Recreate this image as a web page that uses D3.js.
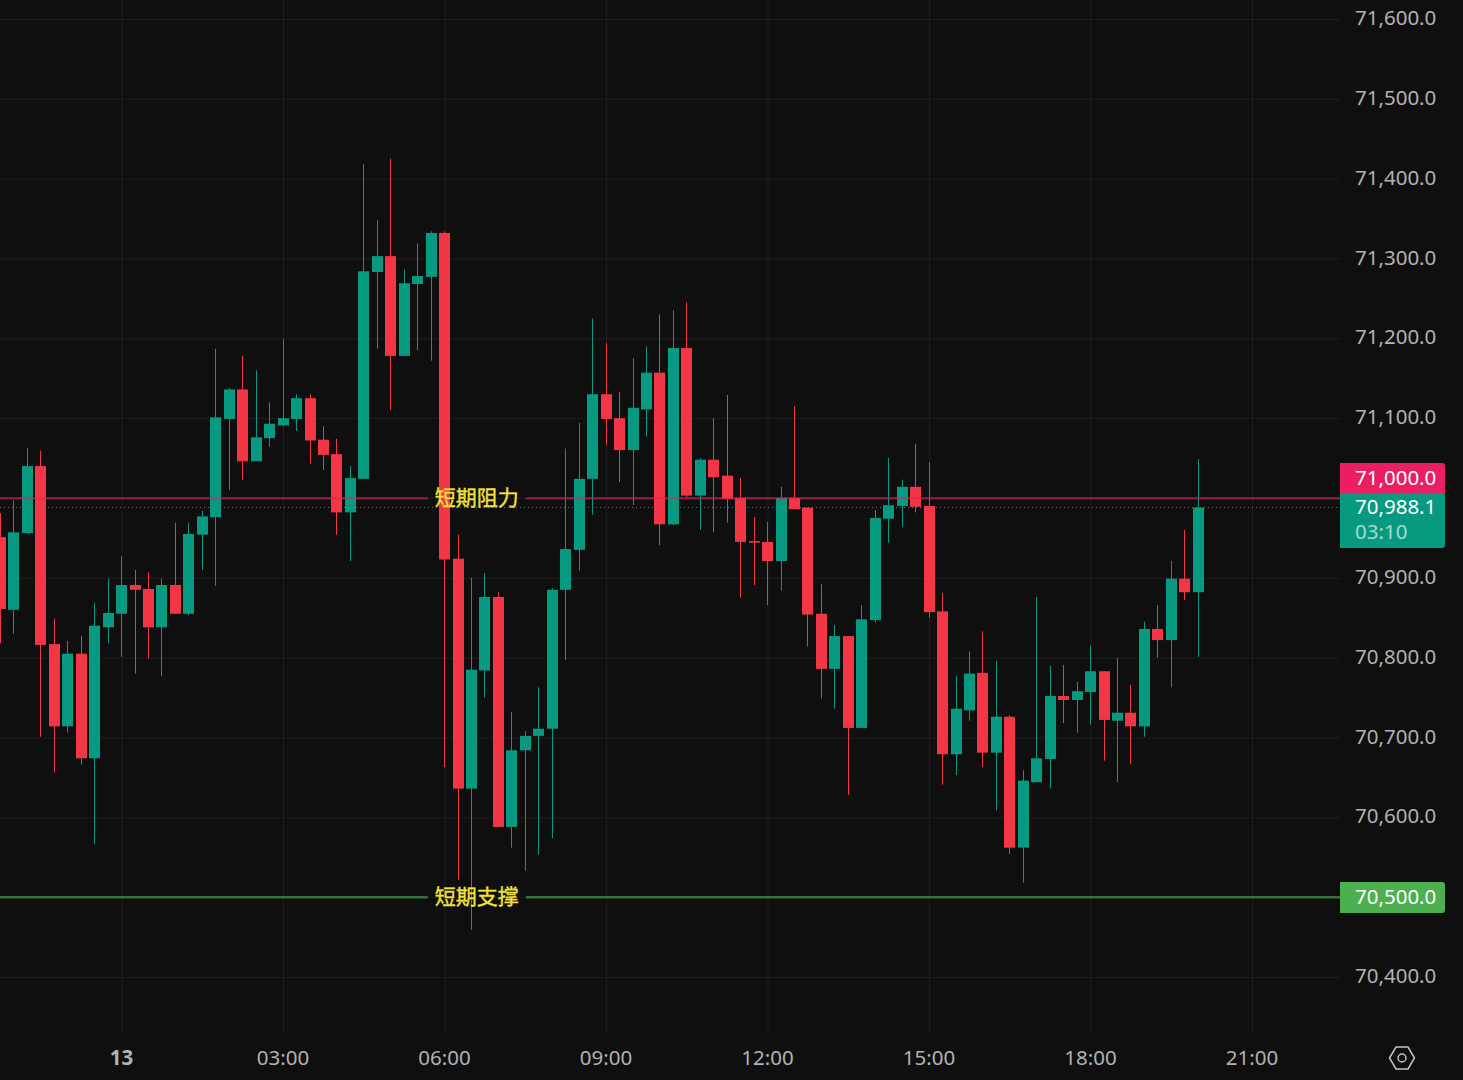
<!DOCTYPE html>
<html>
<head>
<meta charset="utf-8">
<script src="https://cdn.jsdelivr.net/npm/d3@7"></script>
<style>
  html, body { margin: 0; padding: 0; background: #0f0f0f; overflow: hidden; }
  svg { display: block; }
  text { font-family: "Noto Sans", sans-serif; }
</style>
</head>
<body>
<svg width="1463" height="1080"></svg>
<script>
// 15 minute bars, first one is 21:45 on the 12th
var firstBarHour = -2.25;
var barOpen = [70951,70860,70956,71040,70817,70714,70805,70674,70838,70855,70891,70886,70838,70891,70855,70954,70976,71099,71136,71046,71075,71091,71099,71125,71073,71055,70982,71024,71283,71303,71178,71268,71277,71332,70924,70636,70784,70876,70588,70684,70702,70711,70885,70935,71024,71130,71100,71060,71111,71157,70967,71188,71003,71048,71028,71000,70946,70945,70921,71000,70988,70855,70786,70827,70712,70847,70974,70990,71014,70990,70858,70679,70734,70781,70681,70726,70562,70644,70673,70752,70747,70757,70783,70721,70731,70714,70836,70822,70899,70882];
var barHigh = [70981,70997,71063,71059,70849,70821,70827,70869,70899,70927,70910,70907,70899,70969,70969,70984,71187,71138,71178,71160,71120,71199,71130,71130,71090,71074,71040,71418,71348,71425,71286,71319,71334,71334,70954,70900,70906,70882,70732,70708,70763,70887,71062,71094,71225,71194,71133,71175,71190,71230,71235,71245,71050,71100,71129,71025,70976,70970,71014,71115,70988,70892,70841,70827,70866,70985,71050,71023,71068,71045,70881,70777,70808,70833,70796,70728,70659,70876,70790,70791,70770,70815,70783,70800,70766,70845,70866,70921,70960,71049];
var barLow = [70818,70830,70955,70701,70656,70706,70666,70567,70818,70801,70780,70799,70777,70855,70853,70910,70890,71010,71023,71046,71064,71090,71084,71043,71035,70954,70921,71024,71187,71110,71178,71185,71172,70663,70522,70459,70750,70588,70562,70533,70553,70574,70797,70909,70979,71066,71020,70991,71077,70941,70966,71001,70960,70957,70969,70875,70891,70866,70884,70986,70814,70749,70736,70628,70712,70844,70944,70964,70982,70850,70641,70653,70721,70663,70609,70554,70518,70644,70636,70718,70706,70716,70671,70644,70667,70701,70800,70763,70872,70801];
var barClose = [70861,70957,71040,70816,70714,70805,70674,70840,70856,70891,70885,70838,70891,70855,70955,70977,71101,71136,71046,71076,71093,71100,71125,71072,71054,70982,71025,71284,71303,71178,71269,71278,71332,70923,70636,70785,70876,70588,70684,70702,70711,70885,70936,71024,71130,71099,71060,71113,71157,70967,71188,71003,71048,71026,70999,70945,70944,70921,71000,70986,70854,70786,70827,70712,70848,70975,70991,71014,70989,70857,70679,70736,70780,70681,70726,70562,70646,70674,70752,70747,70758,70783,70722,70731,70714,70836,70822,70899,70882,70988.1];

var priceTicks = [71600,71500,71400,71300,71200,71100,71000,70900,70800,70700,70600,70500,70400];
var timeTicks = [0,3,6,9,12,15,18,21];
var timeLabels = ["13","03:00","06:00","09:00","12:00","15:00","18:00","21:00"];

var resistanceLevel = 71000, supportLevel = 70500, lastPrice = 70988.1;
var lineLabels = ["短期阻力","短期支撑"];
var lastCountdown = "03:10";

var svg = d3.select("svg"),
    width = +svg.attr("width"),
    height = +svg.attr("height"),
    plotRight = 1340;

var upColor = "#089981", downColor = "#f23645", gridColor = "#1e1e1e", axisText = "#b2b2b2";

svg.append("rect").attr("width", width).attr("height", height).attr("fill", "#0f0f0f");

var x = d3.scaleLinear().domain([0, 21]).range([121.5, 1252]);
var y = d3.scaleLinear().domain([70400, 71600]).range([977, 19]);
var fmt = d3.format(",.1f");

var yAxis = d3.axisRight(y)
    .tickValues(priceTicks)
    .tickSize(-plotRight)
    .tickPadding(15)
    .tickFormat(fmt);

var xAxis = d3.axisBottom(x)
    .tickValues(timeTicks)
    .tickSize(-1034)
    .tickPadding(16)
    .tickFormat(function(d, i) { return timeLabels[i]; });

var gy = svg.append("g").attr("transform", "translate(" + plotRight + ",0)").call(yAxis);
var gx = svg.append("g").attr("transform", "translate(0,1034)").call(xAxis);

gy.select(".domain").remove();
gx.select(".domain").remove();
svg.selectAll(".tick line").attr("stroke", gridColor);
gy.selectAll("text").attr("font-size", 20.5).attr("fill", axisText).attr("y", -1);
gx.selectAll("text").attr("font-size", 20.5).attr("fill", axisText)
    .attr("dx", -0.5)
    .attr("font-weight", function(d) { return d === 0 ? "bold" : "normal"; });

var bars = d3.range(barOpen.length).map(function(i) {
  return {
    hour: firstBarHour + i * 0.25,
    open: barOpen[i], high: barHigh[i], low: barLow[i], close: barClose[i]
  };
});

function barColor(d) { return d.close >= d.open ? upColor : downColor; }
function barLeft(d) { return Math.round(x(d.hour) - 5.4); }

var bar = svg.append("g").selectAll("g")
    .data(bars)
    .enter().append("g");

bar.append("line")
    .attr("x1", function(d) { return barLeft(d) + 5.5; })
    .attr("x2", function(d) { return barLeft(d) + 5.5; })
    .attr("y1", function(d) { return y(d.high); })
    .attr("y2", function(d) { return y(d.low); })
    .attr("stroke", barColor);

bar.append("rect")
    .attr("x", barLeft)
    .attr("width", 11)
    .attr("y", function(d) { return y(Math.max(d.open, d.close)); })
    .attr("height", function(d) { return Math.max(1.5, Math.abs(y(d.open) - y(d.close))); })
    .attr("fill", barColor);

// last price dotted line
svg.append("line")
    .attr("x1", 0).attr("x2", plotRight)
    .attr("y1", Math.floor(y(lastPrice)) + 0.5).attr("y2", Math.floor(y(lastPrice)) + 0.5)
    .attr("stroke", upColor)
    .attr("stroke-dasharray", "1,3");

// the two drawn levels, each broken around its label
var labelX = x(6.6);
[[resistanceLevel, "rgba(233,30,99,0.55)", lineLabels[0]],
 [supportLevel, "rgba(76,175,80,0.6)", lineLabels[1]]].forEach(function(l) {
  var yy = Math.round(y(l[0]));
  [[0, labelX - 49], [labelX + 49, plotRight]].forEach(function(seg) {
    svg.append("line")
        .attr("x1", seg[0]).attr("x2", seg[1])
        .attr("y1", yy + 0.25).attr("y2", yy + 0.25)
        .attr("stroke", l[1])
        .attr("stroke-width", 2.5);
  });
  svg.append("text")
      .attr("x", labelX).attr("y", yy + 7)
      .attr("text-anchor", "middle")
      .attr("font-size", 21)
      .style("font-family", '"Noto Sans CJK SC"')
      .attr("fill", "#f5e13c")
      .attr("stroke", "#f5e13c")
      .attr("stroke-width", 0.35)
      .text(l[2]);
});

function tagPath(top, bottom, r0, r1) {
  var p = d3.path(), l = plotRight, r = 1445;
  p.moveTo(l, top);
  p.lineTo(r - r0, top);
  p.quadraticCurveTo(r, top, r, top + r0);
  p.lineTo(r, bottom - r1);
  p.quadraticCurveTo(r, bottom, r - r1, bottom);
  p.lineTo(l, bottom);
  p.closePath();
  return p.toString();
}

function tagText(str, yy, color) {
  svg.append("text").attr("x", 1355).attr("y", yy)
      .attr("font-size", 20.5).attr("fill", color).text(str);
}

svg.append("path").attr("d", tagPath(493, 548, 0, 3)).attr("fill", upColor);
svg.append("path").attr("d", tagPath(463, 493, 3, 0)).attr("fill", "#e91e63");
svg.append("path").attr("d", tagPath(882, 913, 3, 3)).attr("fill", "#4caf50");
tagText(fmt(resistanceLevel), 485, "#fff");
tagText(fmt(lastPrice), 514, "#fff");
tagText(lastCountdown, 539, "rgba(255,255,255,0.65)");
tagText(fmt(supportLevel), 904, "#fff");

// settings hexagon
var hex = [[-12.5,0],[-6,-11],[6,-11],[12.5,0],[6,11],[-6,11]];
var icon = svg.append("g").attr("transform", "translate(1402,1058)")
    .attr("fill", "none").attr("stroke", "#c4c4c4").attr("stroke-width", 1.5);
icon.append("path").attr("d", d3.line()(hex) + "Z");
icon.append("circle").attr("r", 4);
</script>
</body>
</html>
